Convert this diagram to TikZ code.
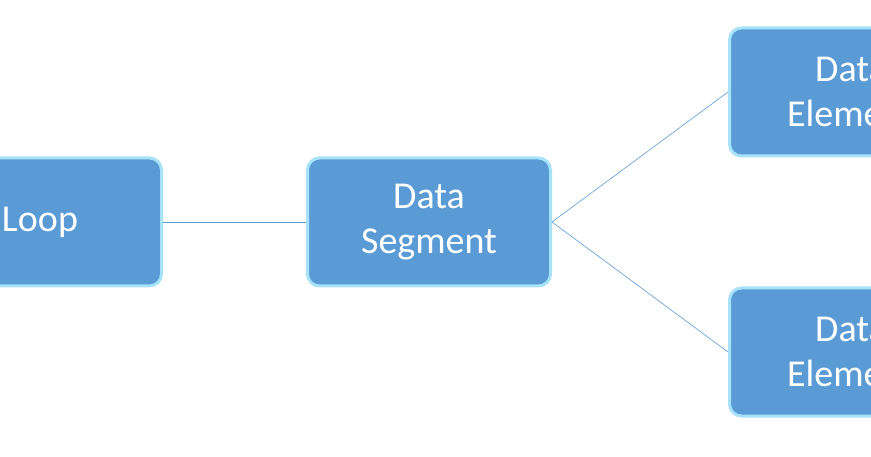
\documentclass[tikz,border=0pt]{standalone}
\usepackage{fontspec}
\setmainfont{Carlito}
\begin{document}
\begin{tikzpicture}[x=1pt,y=-1pt,
  box/.style={draw=cyan!35!white,line width=3pt,fill=boxblue,rounded corners=12pt,
    minimum width=243pt,minimum height=128pt,text=white,align=center,
    font=\fontsize{38}{45}\selectfont},
  conn/.style={draw=boxblue,line width=0.6pt}]
\definecolor{boxblue}{HTML}{5B9BD5}
\useasboundingbox (0,0) rectangle (871,457);
\clip (0,0) rectangle (871,457);
\fill[white] (0,0) rectangle (871,457);
\node[box] (loop) at (40,222) {Loop};
\node[box] (seg) at (429,222) {Data\\Segment};
\node[box] (e1) at (851,92) {Data\\Element};
\node[box] (e2) at (851,352) {Data\\Element};
\draw[conn] (loop.east) -- (seg.west);
\draw[conn] (seg.east) -- (e1.west);
\draw[conn] (seg.east) -- (e2.west);
\end{tikzpicture}
\end{document}
